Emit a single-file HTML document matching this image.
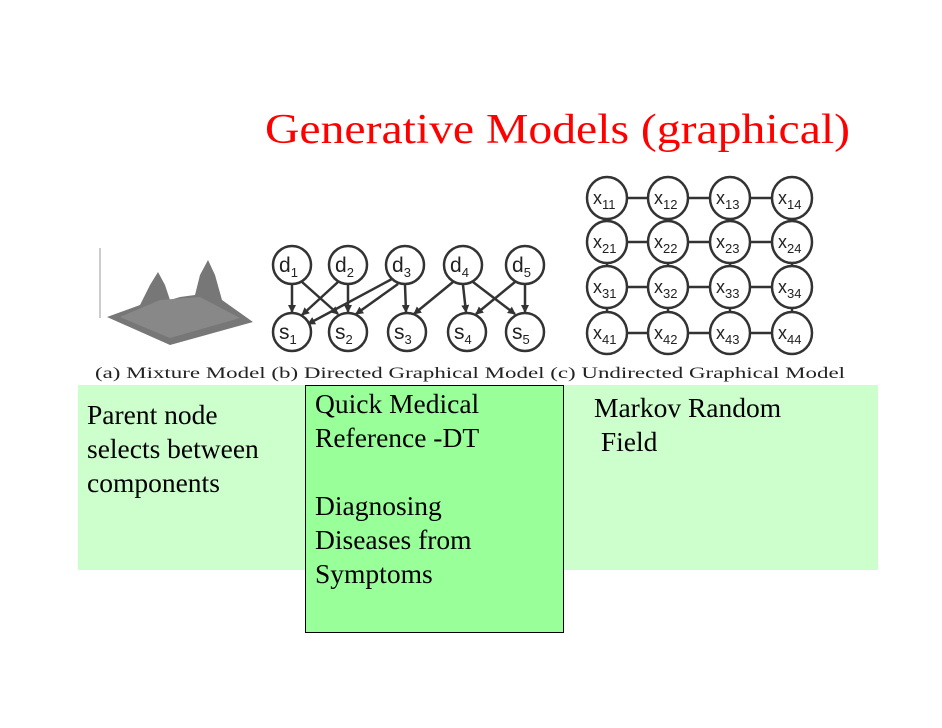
<!DOCTYPE html>
<html><head><style>
body{margin:0;width:942px;height:728px;background:#fff;position:relative;overflow:hidden;font-family:"Liberation Serif",serif}
.t{position:absolute;white-space:nowrap}
</style></head><body>
<div style="position:absolute;left:78px;top:385px;width:800px;height:185px;background:#ccffcc"></div>
<div style="position:absolute;left:305px;top:385px;width:257px;height:246px;background:#99ff99;border:1px solid #000"></div>
<div class="t" style="left:87px;top:398px;font-size:27.5px;line-height:34px">Parent node<br>selects between<br>components</div>
<div class="t" style="left:315px;top:387px;font-size:27.5px;line-height:34px">Quick Medical<br>Reference -DT<br><br>Diagnosing<br>Diseases from<br>Symptoms</div>
<div class="t" style="left:594px;top:391px;font-size:27.5px;line-height:34px">Markov Random<br>&nbsp;Field</div>
<svg width="942" height="728" style="position:absolute;left:0;top:0" font-family="Liberation Sans,sans-serif">
<defs><marker id="a" markerWidth="8" markerHeight="8" refX="7" refY="4" orient="auto" markerUnits="userSpaceOnUse"><path d="M0,0L8,4L0,8z" fill="#333"/></marker></defs>
<text x="265" y="143" font-family="Liberation Serif,serif" font-size="42" fill="#ff0000" textLength="585" lengthAdjust="spacingAndGlyphs">Generative Models (graphical)</text>
<line x1="100" y1="248" x2="100" y2="318" stroke="#999"/>
<polygon points="107,317 140,305 150,285 158,272 165,285 170,300 180,297 195,295 200,275 208,260 215,275 222,300 253,322 170,345" fill="#777"/>
<polygon points="160,300 200,297 240,318 170,338 120,317" fill="#888"/>
<text x="95" y="378" font-family="Liberation Serif,serif" font-size="16" fill="#222" textLength="750" lengthAdjust="spacingAndGlyphs">(a) Mixture Model  (b) Directed Graphical Model  (c) Undirected Graphical Model</text>
<g stroke="#333" stroke-width="2.5" marker-end="url(#a)">
<line x1="292" y1="285" x2="292" y2="312"/>
<line x1="302" y1="282" x2="338" y2="314"/>
<line x1="338" y1="282" x2="302" y2="315"/>
<line x1="348" y1="285" x2="348" y2="312"/>
<line x1="392" y1="279" x2="308" y2="324"/>
<line x1="398" y1="284" x2="356" y2="314"/>
<line x1="405" y1="285" x2="406" y2="312"/>
<line x1="453" y1="282" x2="414" y2="314"/>
<line x1="463" y1="285" x2="466" y2="312"/>
<line x1="473" y1="282" x2="515" y2="314"/>
<line x1="515" y1="282" x2="476" y2="314"/>
<line x1="525" y1="285" x2="525" y2="312"/>
</g>
<g fill="#fff" stroke="#333" stroke-width="2.5">
<circle cx="292" cy="265" r="19"/><circle cx="348" cy="265" r="19"/><circle cx="405" cy="265" r="19"/><circle cx="463" cy="265" r="19"/><circle cx="525" cy="265" r="19"/>
<circle cx="292" cy="332" r="19"/><circle cx="348" cy="332" r="19"/><circle cx="407" cy="332" r="19"/><circle cx="467" cy="332" r="19"/><circle cx="525" cy="332" r="19"/>
</g>
<g font-size="21" fill="#222">
<text x="279" y="272">d<tspan font-size="13" dy="5">1</tspan></text>
<text x="335" y="272">d<tspan font-size="13" dy="5">2</tspan></text>
<text x="392" y="272">d<tspan font-size="13" dy="5">3</tspan></text>
<text x="450" y="272">d<tspan font-size="13" dy="5">4</tspan></text>
<text x="512" y="272">d<tspan font-size="13" dy="5">5</tspan></text>
<text x="279" y="339">s<tspan font-size="13" dy="5">1</tspan></text>
<text x="335" y="339">s<tspan font-size="13" dy="5">2</tspan></text>
<text x="394" y="339">s<tspan font-size="13" dy="5">3</tspan></text>
<text x="454" y="339">s<tspan font-size="13" dy="5">4</tspan></text>
<text x="512" y="339">s<tspan font-size="13" dy="5">5</tspan></text>
</g>
<g stroke="#333" stroke-width="2.5">
<line x1="607" y1="198" x2="792" y2="198"/><line x1="607" y1="242" x2="792" y2="242"/><line x1="607" y1="287" x2="792" y2="287"/><line x1="607" y1="333" x2="792" y2="333"/>
<line x1="607" y1="198" x2="607" y2="333"/><line x1="668" y1="198" x2="668" y2="333"/><line x1="730" y1="198" x2="730" y2="333"/><line x1="792" y1="198" x2="792" y2="333"/>
</g>
<g fill="#fff" stroke="#333" stroke-width="2.5">
<ellipse cx="607" cy="198" rx="20" ry="21"/><ellipse cx="668" cy="198" rx="20" ry="21"/><ellipse cx="730" cy="198" rx="20" ry="21"/><ellipse cx="792" cy="198" rx="20" ry="21"/>
<ellipse cx="607" cy="242" rx="20" ry="21"/><ellipse cx="668" cy="242" rx="20" ry="21"/><ellipse cx="730" cy="242" rx="20" ry="21"/><ellipse cx="792" cy="242" rx="20" ry="21"/>
<ellipse cx="607" cy="287" rx="20" ry="21"/><ellipse cx="668" cy="287" rx="20" ry="21"/><ellipse cx="730" cy="287" rx="20" ry="21"/><ellipse cx="792" cy="287" rx="20" ry="21"/>
<ellipse cx="607" cy="333" rx="20" ry="21"/><ellipse cx="668" cy="333" rx="20" ry="21"/><ellipse cx="730" cy="333" rx="20" ry="21"/><ellipse cx="792" cy="333" rx="20" ry="21"/>
</g>
<g font-size="18" fill="#222">
<text x="593" y="204">x<tspan font-size="13" dy="5">11</tspan></text><text x="654" y="204">x<tspan font-size="13" dy="5">12</tspan></text><text x="716" y="204">x<tspan font-size="13" dy="5">13</tspan></text><text x="778" y="204">x<tspan font-size="13" dy="5">14</tspan></text>
<text x="593" y="248">x<tspan font-size="13" dy="5">21</tspan></text><text x="654" y="248">x<tspan font-size="13" dy="5">22</tspan></text><text x="716" y="248">x<tspan font-size="13" dy="5">23</tspan></text><text x="778" y="248">x<tspan font-size="13" dy="5">24</tspan></text>
<text x="593" y="293">x<tspan font-size="13" dy="5">31</tspan></text><text x="654" y="293">x<tspan font-size="13" dy="5">32</tspan></text><text x="716" y="293">x<tspan font-size="13" dy="5">33</tspan></text><text x="778" y="293">x<tspan font-size="13" dy="5">34</tspan></text>
<text x="593" y="339">x<tspan font-size="13" dy="5">41</tspan></text><text x="654" y="339">x<tspan font-size="13" dy="5">42</tspan></text><text x="716" y="339">x<tspan font-size="13" dy="5">43</tspan></text><text x="778" y="339">x<tspan font-size="13" dy="5">44</tspan></text>
</g>
</svg>
</body></html>
